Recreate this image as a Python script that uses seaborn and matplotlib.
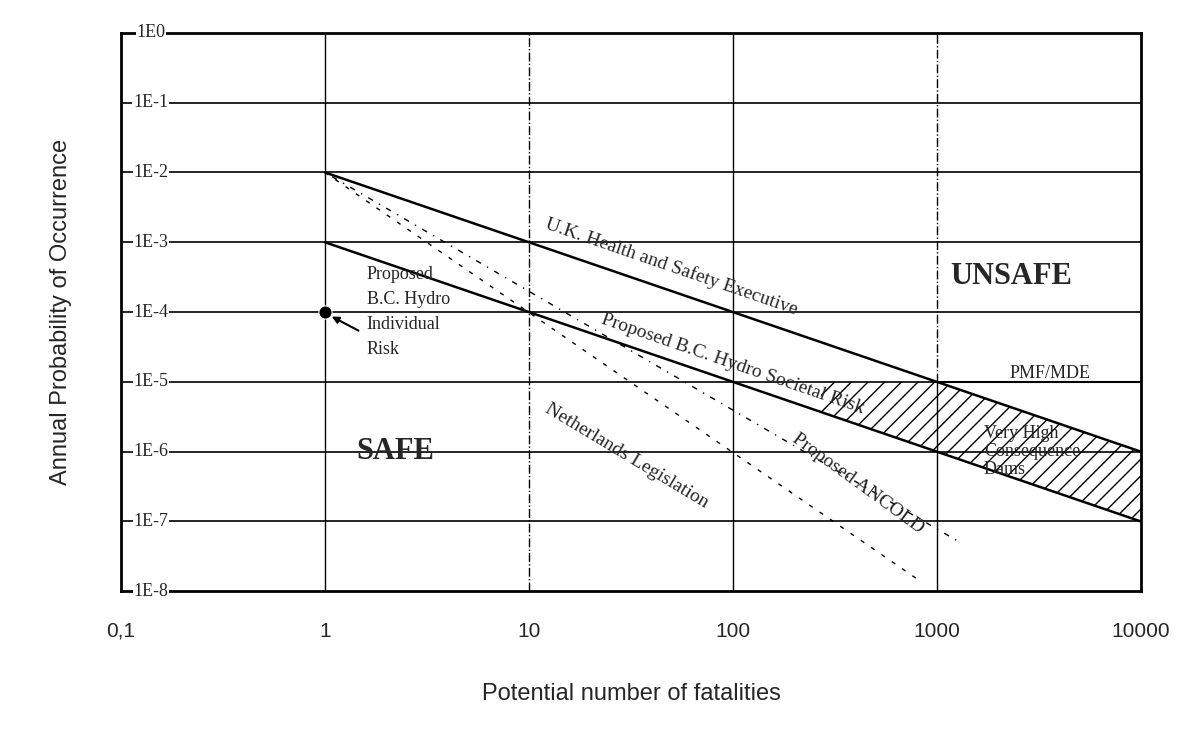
import numpy as np
import matplotlib
matplotlib.use("Agg")
import matplotlib.pyplot as plt
import seaborn as sns
import pandas as pd

sns.set_style("white")
plt.rcParams['font.family'] = ['Liberation Sans', 'DejaVu Sans']

x_ticks = [0.1, 1, 10, 100, 1000, 10000]
x_labels = ["0,1", "1", "10", "100", "1000", "10000"]
y_ticks = [1, 1e-1, 1e-2, 1e-3, 1e-4, 1e-5, 1e-6, 1e-7, 1e-8]
y_labels = ["1E0", "1E-1", "1E-2", "1E-3", "1E-4", "1E-5", "1E-6", "1E-7", "1E-8"]

# criterion lines (N, F)
uk_x, uk_y = [1, 10000], [1e-2, 1e-6]
bc_x, bc_y = [1, 10000], [1e-3, 1e-7]
neth_x, neth_y = [1, 800], [1e-2, 1.5e-8]
ancold_x, ancold_y = [1, 1300], [1e-2, 5e-8]
point_x, point_y = [1], [1e-4]

lines = pd.DataFrame({
    "N": uk_x + bc_x + neth_x + ancold_x,
    "F": uk_y + bc_y + neth_y + ancold_y,
    "line": ["uk"] * 2 + ["bc"] * 2 + ["neth"] * 2 + ["ancold"] * 2,
})

fig, ax = plt.subplots(figsize=(11.86, 7.3), dpi=100)
fig.subplots_adjust(left=0.102, right=0.962, top=0.955, bottom=0.19)
ax.set_xscale("log")
ax.set_yscale("log")
ax.set_xlim(0.1, 10000)
ax.set_ylim(1e-8, 1)

# grid
for y in y_ticks[1:-1]:
    ax.axhline(y, color="black", lw=1.2, zorder=1)
ax.axvline(1, color="black", lw=1)
ax.axvline(10, color="black", lw=1, ls="-.")
ax.axvline(100, color="black", lw=1)
ax.plot([1000, 1000], [1e-8, 1e-5], color="black", lw=1)
ax.plot([1000, 1000], [1e-5, 1], color="black", lw=1, ls="-.")

styles = {"uk": ("-", 1.8), "bc": ("-", 1.8), "neth": ((0, (3, 6)), 1), "ancold": ((0, (1, 5, 4, 5)), 1)}
for name, g in lines.groupby("line"):
    ls, lw = styles[name]
    sns.lineplot(data=g, x="N", y="F", ax=ax, color="black", ls=ls, lw=lw, zorder=3)

# hatched very high consequence region
plt.rcParams['hatch.linewidth'] = 1.0
xs = np.logspace(np.log10(270), 4, 200)
upper = np.minimum(1e-5, 1e-2 / xs)
lower = 1e-3 / xs
ax.fill_between(xs, lower, upper, where=upper > lower, facecolor="none", edgecolor="black", hatch="//", lw=0)
ax.plot([1000, 10000], [1e-5, 1e-5], color="black", lw=1.5)

sns.scatterplot(x=point_x, y=point_y, ax=ax, color="black", s=90, zorder=5)
ax.annotate("", xy=(1.05, 9e-5), xytext=(1.5, 5.2e-5),
            arrowprops=dict(arrowstyle="-|>", color="black", lw=1.5))

serif = "Liberation Serif"
for y, lab in zip(y_ticks, y_labels):
    ax.text(0.14, y, lab, ha="center", va="center", fontsize=13, family=serif,
            bbox=dict(fc="white", ec="none", pad=0.5))

ax.text(1.6, 1e-4, "Proposed\nB.C. Hydro\nIndividual\nRisk", fontsize=13, family=serif,
        va="center", linespacing=1.6)
ax.text(2.2, 1e-6, "SAFE", fontsize=22, weight="bold", family=serif, va="center", ha="center")
ax.text(2300, 3.2e-4, "UNSAFE", fontsize=22, weight="bold", family=serif, va="center", ha="center")
ax.text(3600, 1.15e-5, "PMF/MDE", fontsize=13, family=serif, ha="center")
ax.text(1700, 1e-6, "Very High\nConsequence\nDams", fontsize=13, family=serif, va="center",
        linespacing=1.1)
ax.text(50, 4.5e-4, "U.K. Health and Safety Executive", rotation=-19, fontsize=14,
        family=serif, ha="center", va="center")
ax.text(100, 1.8e-5, "Proposed B.C. Hydro Societal Risk", rotation=-19, fontsize=14,
        family=serif, ha="center", va="center")
ax.text(30, 8.6e-7, "Netherlands Legislation", rotation=-31, fontsize=14,
        family=serif, ha="center", va="center")
ax.text(410, 3.5e-7, "Proposed ANCOLD", rotation=-36, fontsize=14,
        family=serif, ha="center", va="center")

ax.set_xticks(x_ticks)
ax.set_xticklabels(x_labels, fontsize=15)
ax.minorticks_off()
ax.set_yticks([])
ax.tick_params(axis="x", length=0, pad=22)
ax.set_xlabel("Potential number of fatalities", fontsize=17, labelpad=30)
ax.set_ylabel("Annual Probability of Occurrence", fontsize=17, labelpad=35)
for s in ax.spines.values():
    s.set_linewidth(2)
    s.set_color("black")

fig.savefig("out.png", dpi=100)
